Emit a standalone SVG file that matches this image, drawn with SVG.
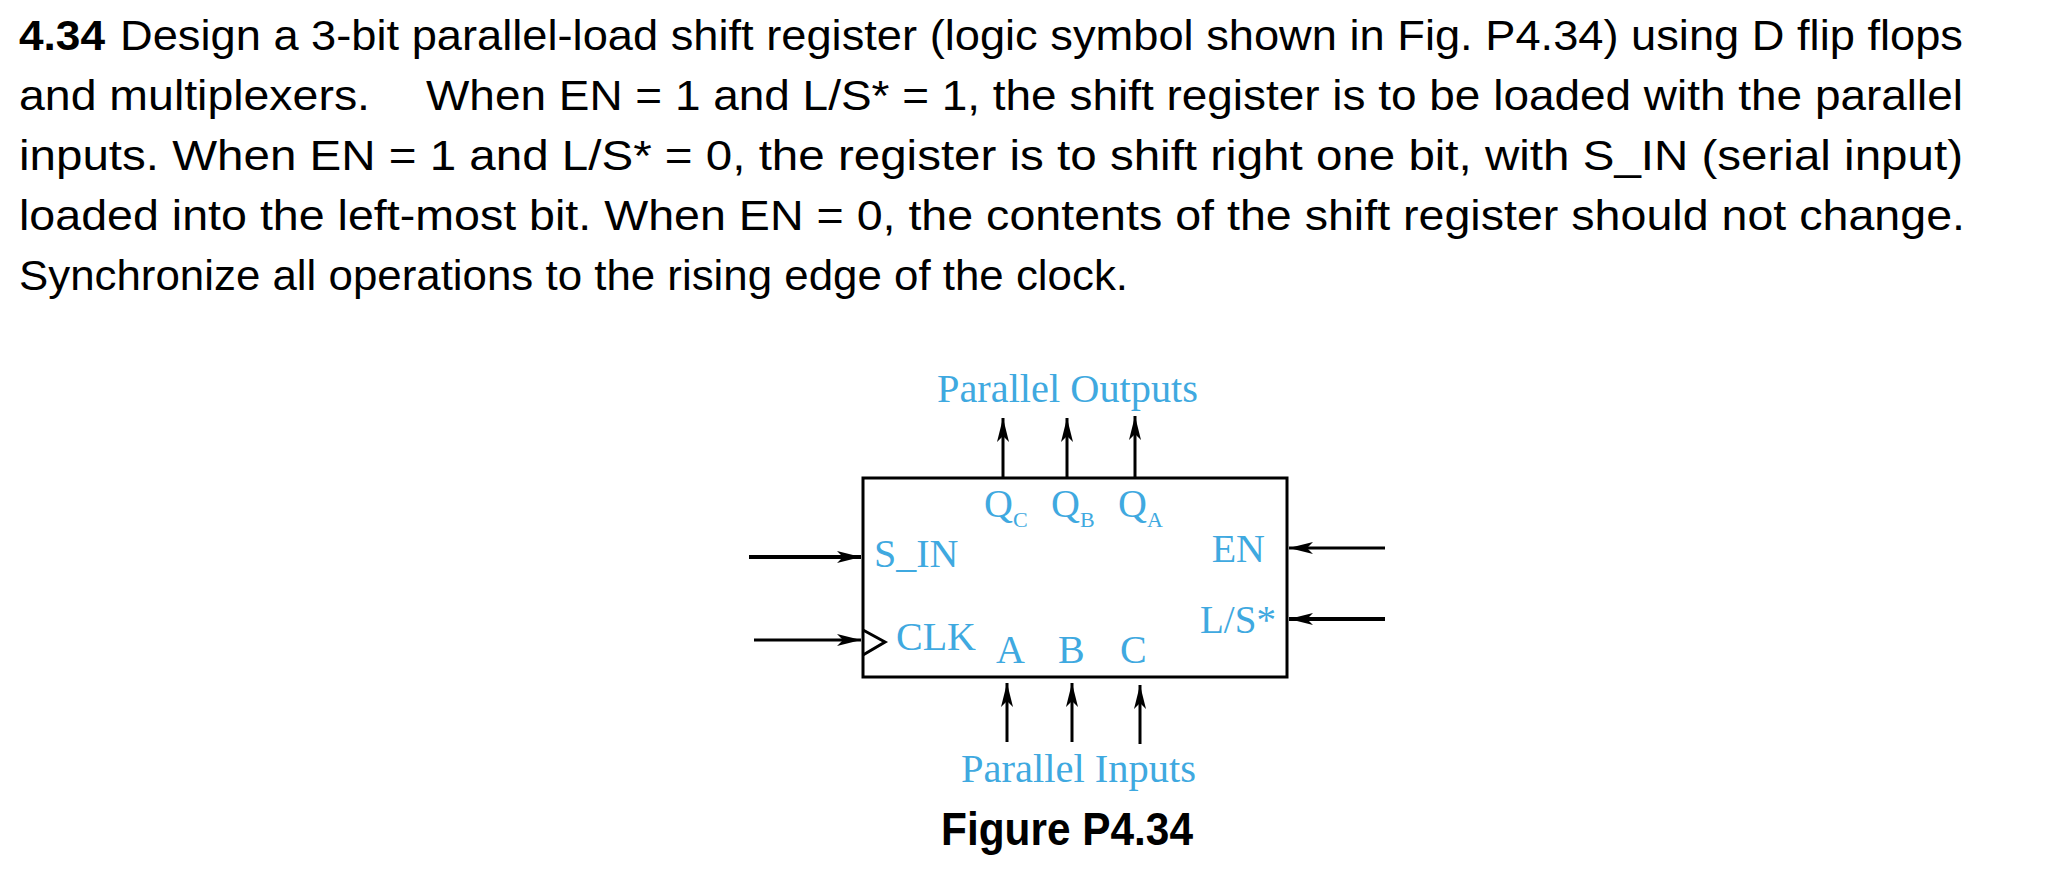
<svg xmlns="http://www.w3.org/2000/svg" width="2052" height="876" viewBox="0 0 2052 876">
<style>
.t{font-family:"Liberation Sans",Arial,sans-serif;font-size:43px;fill:#000}
.b{font-weight:bold}
.d{font-family:"Liberation Serif","Times New Roman",serif;fill:#3FA9E0;font-size:40px}
.s{font-size:22px}
.w{stroke:#000;stroke-width:3;fill:none}
</style>
<defs><marker id="ah" viewBox="0 0 20 10" refX="20" refY="5" markerWidth="24" markerHeight="12" markerUnits="userSpaceOnUse" orient="auto"><path d="M0,0 L20,5 L0,10 L5,5 Z" fill="#000"/></marker></defs>
<g id="question">
<text class="t b" x="19" y="50" textLength="86" lengthAdjust="spacingAndGlyphs">4.34</text>
<text class="t" x="120" y="50" textLength="1843" lengthAdjust="spacingAndGlyphs">Design a 3-bit parallel-load shift register (logic symbol shown in Fig. P4.34) using D flip flops</text>
<text class="t" x="19" y="110" textLength="351" lengthAdjust="spacingAndGlyphs">and multiplexers.</text>
<text class="t" x="426" y="110" textLength="1537" lengthAdjust="spacingAndGlyphs">When EN = 1 and L/S* = 1, the shift register is to be loaded with the parallel</text>
<text class="t" x="19" y="170" textLength="1944" lengthAdjust="spacingAndGlyphs">inputs. When EN = 1 and L/S* = 0, the register is to shift right one bit, with S_IN (serial input)</text>
<text class="t" x="19" y="230" textLength="1946" lengthAdjust="spacingAndGlyphs">loaded into the left-most bit. When EN = 0, the contents of the shift register should not change.</text>
<text class="t" x="19" y="290" textLength="1109" lengthAdjust="spacingAndGlyphs">Synchronize all operations to the rising edge of the clock.</text>
</g>
<g id="register">
<rect x="863" y="478" width="424" height="199" class="w"/>
<path d="M863,630 L885,642 L863,655" class="w"/>
<text class="d" x="937" y="402" textLength="261" lengthAdjust="spacingAndGlyphs">Parallel Outputs</text>
<text class="d" x="984" y="517">Q<tspan class="s" dy="10">C</tspan></text>
<text class="d" x="1051" y="517">Q<tspan class="s" dy="10">B</tspan></text>
<text class="d" x="1118" y="517">Q<tspan class="s" dy="10">A</tspan></text>
<text class="d" x="874" y="567">S_IN</text>
<text class="d" x="1265" y="562" text-anchor="end">EN</text>
<text class="d" x="1200" y="633" textLength="76" lengthAdjust="spacingAndGlyphs">L/S*</text>
<text class="d" x="896" y="650">CLK</text>
<text class="d" x="996" y="663">A</text>
<text class="d" x="1058" y="663">B</text>
<text class="d" x="1120" y="663">C</text>
<text class="d" x="961" y="782" textLength="235" lengthAdjust="spacingAndGlyphs">Parallel Inputs</text>
</g>
<g id="connectors" stroke="#000" stroke-width="3">
<line x1="1003" y1="478" x2="1003" y2="418" marker-end="url(#ah)"/>
<line x1="1067" y1="478" x2="1067" y2="418" marker-end="url(#ah)"/>
<line x1="1135" y1="478" x2="1135" y2="416" marker-end="url(#ah)"/>
<line x1="1007" y1="742" x2="1007" y2="683" marker-end="url(#ah)"/>
<line x1="1072" y1="742" x2="1072" y2="683" marker-end="url(#ah)"/>
<line x1="1140" y1="744" x2="1140" y2="685" marker-end="url(#ah)"/>
<line x1="749" y1="557" x2="861" y2="557" stroke-width="4" marker-end="url(#ah)"/>
<line x1="754" y1="640" x2="861" y2="640" marker-end="url(#ah)"/>
<line x1="1385" y1="548" x2="1289" y2="548" marker-end="url(#ah)"/>
<line x1="1385" y1="619" x2="1289" y2="619" stroke-width="4" marker-end="url(#ah)"/>
</g>
<text class="t b" x="941" y="845" textLength="252" lengthAdjust="spacingAndGlyphs" style="font-size:46px">Figure P4.34</text>
</svg>
